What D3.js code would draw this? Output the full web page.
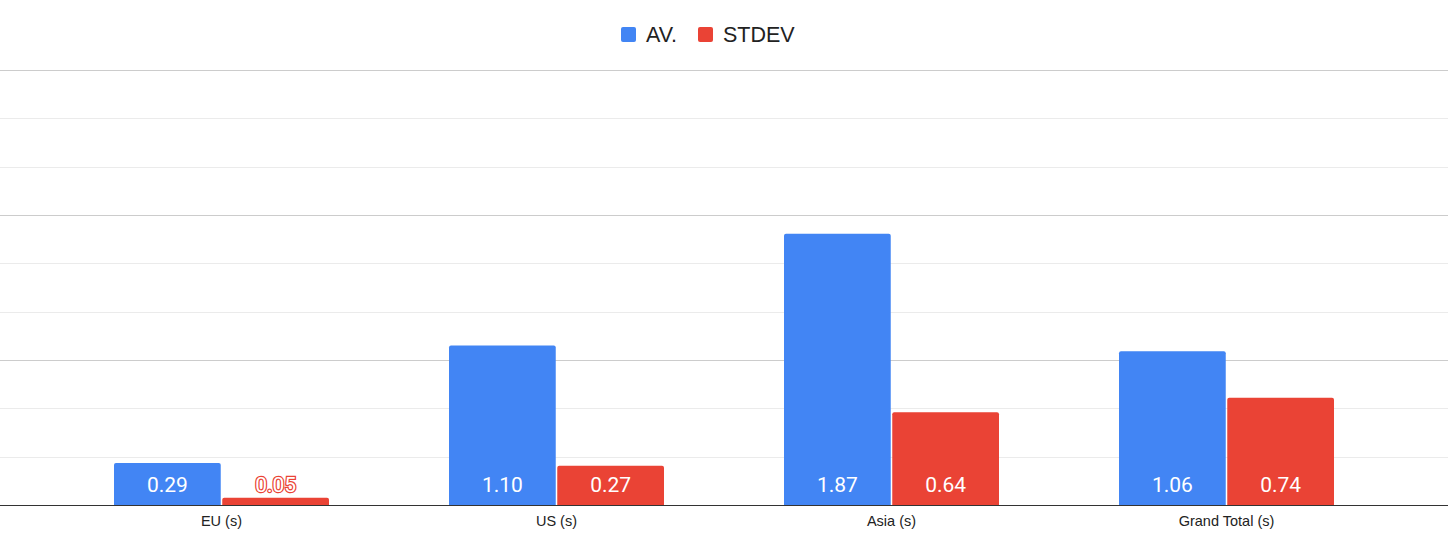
<!DOCTYPE html>
<html>
<head>
<meta charset="utf-8">
<script src="https://cdn.jsdelivr.net/npm/d3@7"></script>
<style>
    body { margin: 0; background: #fff; }
    text { font-family: Roboto, Arial, sans-serif; }
    .sans { font-family: "Liberation Sans", Arial, sans-serif; }
</style>
</head>
<body>
<svg id="chart" width="1448" height="553"></svg>
<script>
// data
var categories = ['EU (s)', 'US (s)', 'Asia (s)', 'Grand Total (s)'];
var seriesNames = ['AV.', 'STDEV'];
var avValues = [0.29, 1.10, 1.87, 1.06];
var stdevValues = [0.05, 0.27, 0.64, 0.74];
var colors = ['#4285f4', '#ea4335'];
var majorTicks = [0, 1, 2, 3];
var minorTicks = [1 / 3, 2 / 3, 4 / 3, 5 / 3, 7 / 3, 8 / 3];

var svg = d3.select('#chart');
var W = 1448;

var x = d3.scaleBand().domain(categories).range([54, 1394]).paddingInner(0).paddingOuter(0);
var y = d3.scaleLinear().domain([0, 3]).range([505, 70]);
var groupW = 215;
var xs = d3.scaleBand().domain(seriesNames).range([0, groupW]).paddingInner(0.014);

// gridlines
svg.append('g').selectAll('line').data(minorTicks).enter().append('line')
    .attr('x1', 0).attr('x2', W)
    .attr('y1', function (d) { return Math.round(y(d)) + 0.5; })
    .attr('y2', function (d) { return Math.round(y(d)) + 0.5; })
    .attr('stroke', '#ebebeb').attr('stroke-width', 1);
svg.append('g').selectAll('line').data(majorTicks.slice(1)).enter().append('line')
    .attr('x1', 0).attr('x2', W)
    .attr('y1', function (d) { return Math.round(y(d)) + 0.5; })
    .attr('y2', function (d) { return Math.round(y(d)) + 0.5; })
    .attr('stroke', '#cccccc').attr('stroke-width', 1);

var rows = [];
categories.forEach(function (c, i) {
    rows.push({cat: c, s: 'AV.', v: avValues[i], color: colors[0]});
    rows.push({cat: c, s: 'STDEV', v: stdevValues[i], color: colors[1]});
});

function barX(d) {
    return x(d.cat) + (x.bandwidth() - groupW) / 2 + xs(d.s);
}

// bars with small rounded tops
svg.append('g').selectAll('path').data(rows).enter().append('path')
    .attr('fill', function (d) { return d.color; })
    .attr('d', function (d) {
        var x0 = barX(d), w = xs.bandwidth(), y0 = y(d.v), y1 = y(0), r = 2;
        return 'M' + x0 + ',' + y1 + 'V' + (y0 + r) + 'Q' + x0 + ',' + y0 + ' ' + (x0 + r) + ',' + y0 +
            'H' + (x0 + w - r) + 'Q' + (x0 + w) + ',' + y0 + ' ' + (x0 + w) + ',' + (y0 + r) + 'V' + y1 + 'Z';
    });

// value labels (short bars get an outlined label)
svg.append('g').selectAll('text').data(rows).enter().append('text')
    .attr('x', function (d) { return barX(d) + xs.bandwidth() / 2; })
    .attr('y', y(0) - 13)
    .attr('text-anchor', 'middle')
    .attr('font-size', 21)
    .attr('fill', '#fff')
    .attr('paint-order', 'stroke')
    .attr('stroke', function (d) { return (y(0) - y(d.v)) < 30 ? d.color : 'none'; })
    .attr('stroke-width', function (d) { return (y(0) - y(d.v)) < 30 ? 2.5 : 0; })
    .text(function (d) { return d3.format('.2f')(d.v); });

// baseline
svg.append('line').attr('x1', 0).attr('x2', W)
    .attr('y1', y(0) + 0.5).attr('y2', y(0) + 0.5)
    .attr('stroke', '#333').attr('stroke-width', 1);

// category axis labels
svg.append('g').selectAll('text').data(categories).enter().append('text')
    .attr('class', 'sans')
    .attr('x', function (d) { return x(d) + x.bandwidth() / 2; })
    .attr('y', 526)
    .attr('text-anchor', 'middle')
    .attr('font-size', 14.5)
    .attr('fill', '#222')
    .text(function (d) { return d; });

// legend
var legendX = [621, 698];
var lg = svg.append('g').selectAll('g').data(seriesNames).enter().append('g')
    .attr('transform', function (d, i) { return 'translate(' + legendX[i] + ',27)'; });
lg.append('rect').attr('width', 15).attr('height', 15).attr('rx', 2)
    .attr('fill', function (d, i) { return colors[i]; });
lg.append('text').attr('class', 'sans').attr('x', 25).attr('y', 15).attr('font-size', 21.5).attr('fill', '#222')
    .text(function (d) { return d; });
</script>
</body>
</html>
